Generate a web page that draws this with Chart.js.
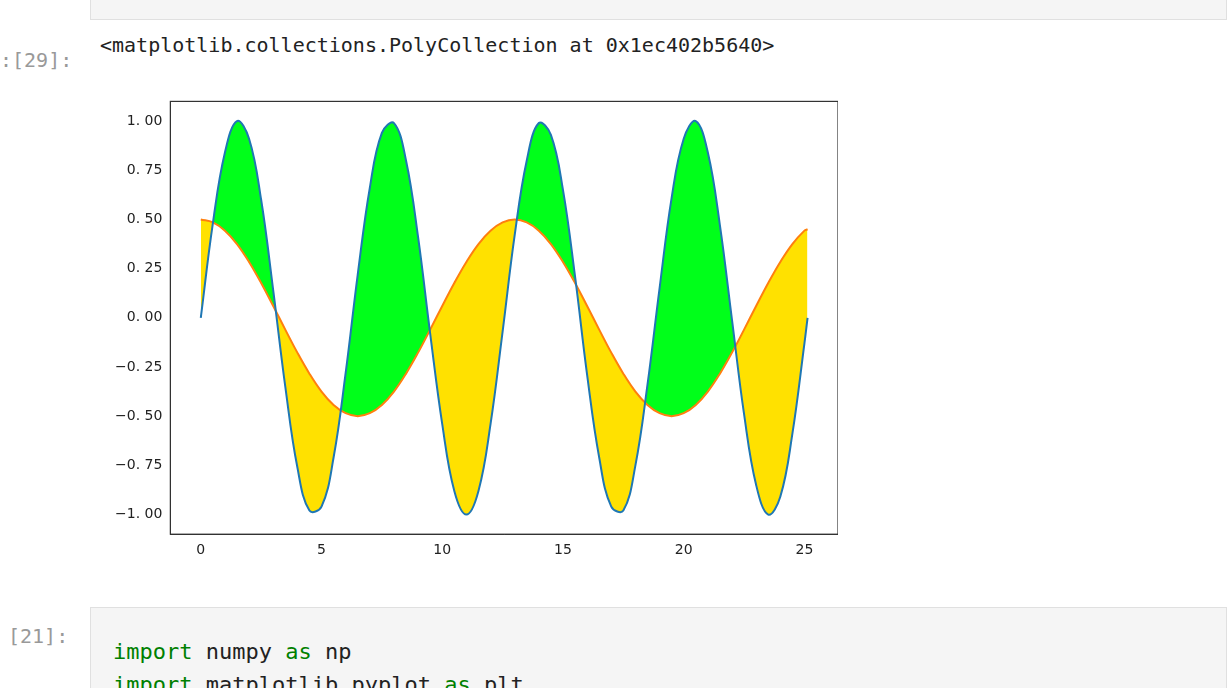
<!DOCTYPE html>
<html>
<head>
<meta charset="utf-8">
<script src="https://cdn.jsdelivr.net/npm/chart.js@4"></script>
<style>
  body { margin: 0; width: 1227px; height: 688px; background: #fff; position: relative; overflow: hidden; font-family: "DejaVu Sans Mono", monospace; }
  .cell { position: absolute; left: 90px; right: 0; background: #f5f5f5; border: 1px solid #e0e0e0; }
  .prompt { position: absolute; left: 0; color: #999; font-size: 20px; }
  .out { position: absolute; left: 100px; top: 33px; font-size: 20px; color: #222; }
  .code { position: absolute; left: 113px; font-size: 22px; color: #222; }
  .kw { color: #008000; }
  #wrap { position: absolute; left: 112px; top: 90px; width: 726px; height: 472px; }
</style>
</head>
<body>
<div class="cell" style="top:-2px;height:20px;"></div>
<div class="prompt" style="top:48px;">:[29]:</div>
<div class="out">&lt;matplotlib.collections.PolyCollection at 0x1ec402b5640&gt;</div>
<div class="cell" style="top:607px;height:100px;"></div>
<div class="prompt" style="top:624px;left:8px;">[21]:</div>
<div class="code" style="top:639px;"><span class="kw">import</span> numpy <span class="kw">as</span> np</div>
<div class="code" style="top:672px;"><span class="kw">import</span> matplotlib.pyplot <span class="kw">as</span> plt</div>
<div id="wrap"><canvas id="c"></canvas></div>
<script>
// x positions and values
const xs = [0,0.5,1,1.5,2,2.5,3,3.5,4,4.5,5,5.5,6,6.5,7,7.5,8,8.5,9,9.5,10,10.5,11,11.5,12,12.5,13,13.5,14,14.5,15,15.5,16,16.5,17,17.5,18,18.5,19,19.5,20,20.5,21,21.5,22,22.5,23,23.5,24,24.5,25,25.13];
const sinVals = [0,0.48,0.84,1.0,0.91,0.60,0.14,-0.35,-0.76,-0.98,-0.96,-0.71,-0.28,0.22,0.66,0.94,0.99,0.80,0.41,-0.08,-0.54,-0.88,-1.0,-0.88,-0.54,-0.07,0.42,0.80,0.99,0.93,0.65,0.21,-0.29,-0.71,-0.96,-0.98,-0.75,-0.34,0.15,0.61,0.91,1.0,0.84,0.47,-0.01,-0.49,-0.85,-1.0,-0.91,-0.59,-0.13,0.0];
const cosVals = [0.50,0.485,0.443,0.375,0.284,0.177,0.06,-0.06,-0.177,-0.284,-0.375,-0.443,-0.485,-0.50,-0.485,-0.443,-0.375,-0.284,-0.177,-0.06,0.06,0.177,0.284,0.375,0.443,0.485,0.50,0.485,0.443,0.375,0.284,0.177,0.06,-0.06,-0.177,-0.284,-0.375,-0.443,-0.485,-0.50,-0.485,-0.443,-0.375,-0.284,-0.177,-0.06,0.06,0.177,0.284,0.375,0.443,0.45];
const xTicks = [0,5,10,15,20,25];
const yTicks = [-1,-0.75,-0.5,-0.25,0,0.25,0.5,0.75,1];

const frame = {
  id: 'frame',
  afterDraw(chart) {
    const a = chart.chartArea, c = chart.ctx;
    c.save(); c.strokeStyle = '#333'; c.lineWidth = 1.2;
    c.strokeRect(a.left, a.top, a.right - a.left, a.bottom - a.top);
    c.restore();
  }
};

new Chart(document.getElementById('c'), {
  type: 'scatter',
  data: {
    datasets: [
      {
        data: xs.map((x, i) => ({ x: x, y: sinVals[i] })),
        showLine: true, borderColor: '#1f77b4', borderWidth: 2, pointRadius: 0, tension: 0.4,
        fill: { target: 1, above: '#00ff1a', below: '#ffe100' }
      },
      {
        data: xs.map((x, i) => ({ x: x, y: cosVals[i] })),
        showLine: true, borderColor: '#ff7f0e', borderWidth: 2, pointRadius: 0, tension: 0.4, fill: false
      }
    ]
  },
  options: {
    responsive: true, maintainAspectRatio: false, animation: false,
    plugins: { legend: { display: false }, tooltip: { enabled: false }, filler: { drawTime: 'beforeDatasetsDraw' } },
    scales: {
      x: {
        type: 'linear', min: -1.26, max: 26.39,
        grid: { display: false, drawTicks: true, tickLength: 5, tickColor: '#333' },
        border: { color: '#333' },
        afterBuildTicks: ax => { ax.ticks = xTicks.map(v => ({ value: v })); },
        ticks: { color: '#222', font: { size: 14, family: 'DejaVu Sans' }, callback: v => String(v) }
      },
      y: {
        min: -1.1, max: 1.1,
        grid: { display: false, drawTicks: true, tickLength: 5, tickColor: '#333' },
        border: { color: '#333' },
        afterBuildTicks: ax => { ax.ticks = yTicks.map(v => ({ value: v })); },
        ticks: { color: '#222', font: { size: 14, family: 'DejaVu Sans' },
          callback: v => (v < 0 ? '\u2212' : '') + Math.abs(v).toFixed(2).replace('.', '. ') }
      }
    }
  },
  plugins: [frame]
});
</script>
</body>
</html>
